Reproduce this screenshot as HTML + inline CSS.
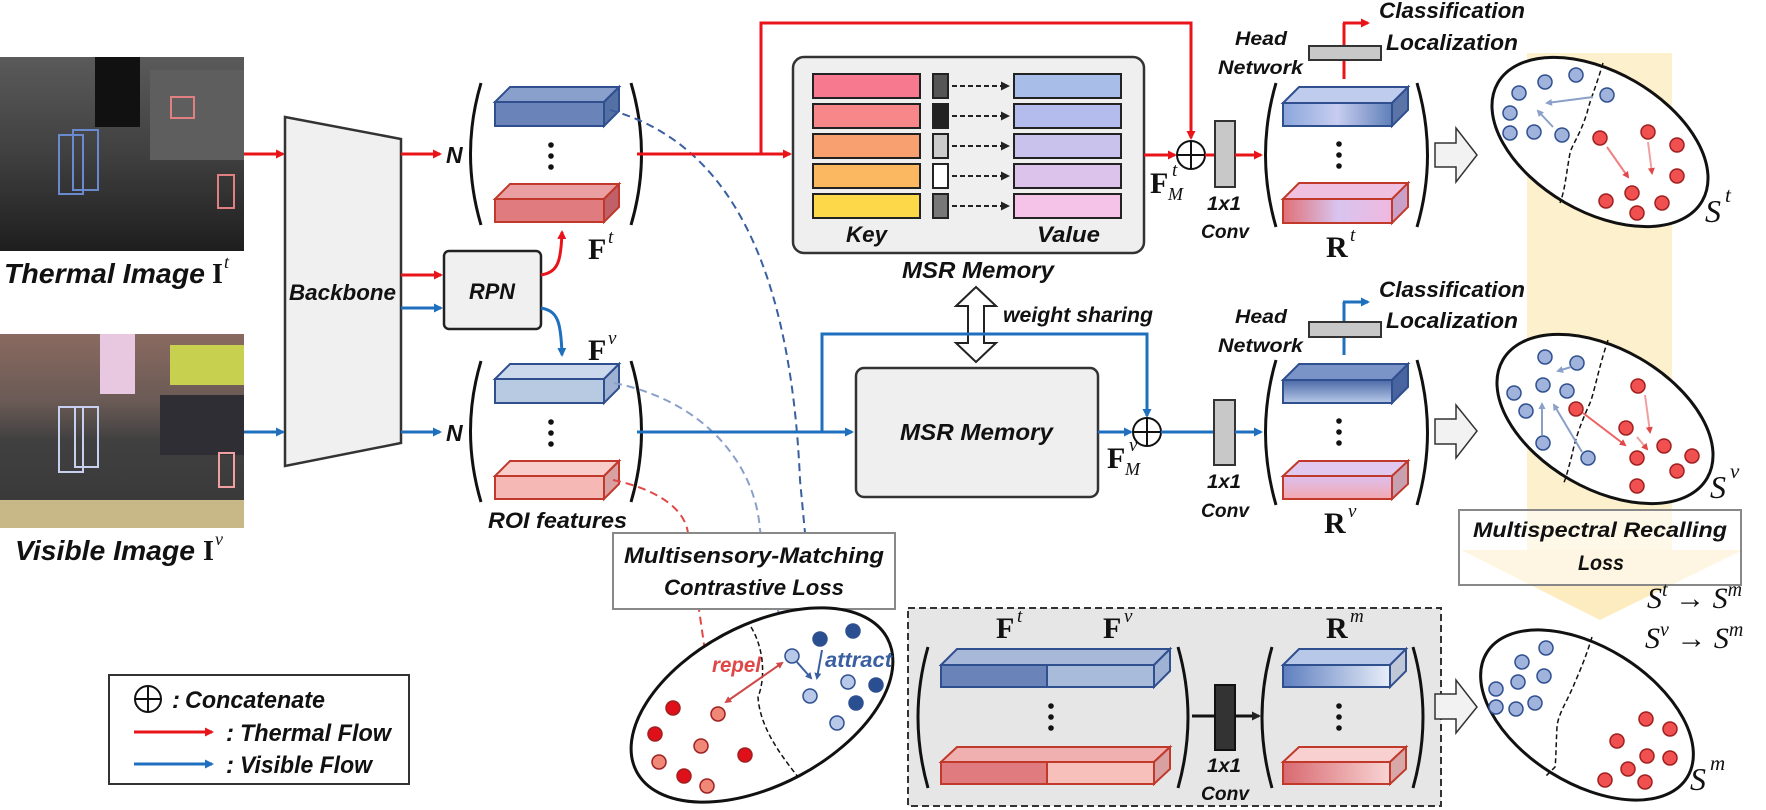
<!DOCTYPE html>
<html><head><meta charset="utf-8"><style>
body{margin:0;background:#fff}
svg{display:block}
text{font-family:"Liberation Sans",sans-serif;font-style:italic;font-weight:bold;fill:#111}
.m{font-family:"Liberation Serif",serif;font-style:normal;font-weight:bold}
.mi{font-family:"Liberation Serif",serif;font-style:italic;font-weight:normal}
</style></head><body>
<svg width="1766" height="810" viewBox="0 0 1766 810" xmlns="http://www.w3.org/2000/svg">
<defs>
<marker id="ar" markerWidth="9" markerHeight="9" refX="7" refY="4.5" orient="auto" markerUnits="userSpaceOnUse"><path d="M0,0 L9,4.5 L0,9 Z" fill="#e8141a"/></marker>
<marker id="ab" markerWidth="9" markerHeight="9" refX="7" refY="4.5" orient="auto" markerUnits="userSpaceOnUse"><path d="M0,0 L9,4.5 L0,9 Z" fill="#1f6fbf"/></marker>
<marker id="ak" markerWidth="9" markerHeight="9" refX="7" refY="4.5" orient="auto" markerUnits="userSpaceOnUse"><path d="M0,0 L9,4.5 L0,9 Z" fill="#222"/></marker>
<marker id="ad" markerWidth="7" markerHeight="7" refX="5" refY="3.5" orient="auto" markerUnits="userSpaceOnUse"><path d="M0,0 L7,3.5 L0,7 Z" fill="#3a5fa0"/></marker>
<marker id="adl" markerWidth="7" markerHeight="7" refX="5" refY="3.5" orient="auto" markerUnits="userSpaceOnUse"><path d="M0,0 L7,3.5 L0,7 Z" fill="#8aa0c8"/></marker>
<marker id="adr" markerWidth="7" markerHeight="7" refX="5" refY="3.5" orient="auto" markerUnits="userSpaceOnUse"><path d="M0,0 L7,3.5 L0,7 Z" fill="#e04848"/></marker>
<marker id="adrs" markerWidth="7" markerHeight="7" refX="5" refY="3.5" orient="auto-start-reverse" markerUnits="userSpaceOnUse"><path d="M0,0 L7,3.5 L0,7 Z" fill="#d04848"/></marker>
<linearGradient id="th" x1="0" y1="0" x2="0" y2="1"><stop offset="0" stop-color="#5a5a5a"/><stop offset="0.5" stop-color="#404040"/><stop offset="1" stop-color="#1e1e1e"/></linearGradient>
<linearGradient id="vi" x1="0" y1="0" x2="0" y2="1"><stop offset="0" stop-color="#8a6a60"/><stop offset="0.35" stop-color="#6a5a55"/><stop offset="0.55" stop-color="#404040"/><stop offset="0.85" stop-color="#3a3a3a"/><stop offset="1" stop-color="#a89870"/></linearGradient>
<linearGradient id="gb" x1="0" x2="1"><stop offset="0" stop-color="#8aa6dc"/><stop offset="0.5" stop-color="#c8cdf0"/><stop offset="1" stop-color="#5f7fb8"/></linearGradient>
<linearGradient id="gb2" x1="0" x2="0" y1="0" y2="1"><stop offset="0" stop-color="#4b6aa8"/><stop offset="1" stop-color="#b8c9e8"/></linearGradient>
<linearGradient id="gr" x1="0" x2="1"><stop offset="0" stop-color="#e07076"/><stop offset="0.5" stop-color="#d8c4ee"/><stop offset="1" stop-color="#f0b8e0"/></linearGradient>
<linearGradient id="gr2" x1="0" x2="0" y1="0" y2="1"><stop offset="0" stop-color="#dcc0ee"/><stop offset="1" stop-color="#f4a8b0"/></linearGradient>
<linearGradient id="gm" x1="0" x2="1"><stop offset="0" stop-color="#5f7fc0"/><stop offset="1" stop-color="#e8eef8"/></linearGradient>
<linearGradient id="gmr" x1="0" x2="1"><stop offset="0" stop-color="#d86a70"/><stop offset="1" stop-color="#f8d4d4"/></linearGradient>
</defs>

<!-- Images -->
<rect x="0" y="57" width="244" height="194" fill="url(#th)"/>
<rect x="95" y="57" width="45" height="70" fill="#111"/>
<rect x="150" y="70" width="94" height="90" fill="#5e5e5e"/>
<rect x="171" y="97" width="23" height="21" fill="none" stroke="#e08080" stroke-width="2"/>
<rect x="218" y="175" width="16" height="33" fill="none" stroke="#e08080" stroke-width="2"/>
<rect x="59" y="135" width="24" height="59" fill="none" stroke="#6a8ad0" stroke-width="2"/>
<rect x="73" y="130" width="25" height="60" fill="none" stroke="#6a8ad0" stroke-width="2"/>
<text x="4" y="283" font-size="28" textLength="201" lengthAdjust="spacingAndGlyphs">Thermal Image</text>
<text x="212" y="283" class="m" font-size="28">I</text><text x="224" y="268" class="mi" font-size="18">t</text>

<rect x="0" y="334" width="244" height="194" fill="url(#vi)"/>
<rect x="100" y="334" width="35" height="60" fill="#e8c8e0"/>
<rect x="170" y="345" width="74" height="40" fill="#c8d050"/>
<rect x="160" y="395" width="84" height="60" fill="#2e2e34"/>
<rect x="0" y="500" width="244" height="28" fill="#c8b888"/>
<rect x="59" y="407" width="24" height="65" fill="none" stroke="#c8d0f0" stroke-width="2"/>
<rect x="75" y="407" width="23" height="60" fill="none" stroke="#c8d0f0" stroke-width="2"/>
<rect x="219" y="453" width="15" height="34" fill="none" stroke="#f0a0a0" stroke-width="2"/>
<text x="15" y="560" font-size="28" textLength="180" lengthAdjust="spacingAndGlyphs">Visible Image</text>
<text x="203" y="560" class="m" font-size="28">I</text><text x="215" y="545" class="mi" font-size="18">v</text>

<!-- Input arrows -->
<line x1="244" y1="154" x2="283" y2="154" stroke="#e8141a" stroke-width="3" marker-end="url(#ar)"/>
<line x1="244" y1="432" x2="283" y2="432" stroke="#1f6fbf" stroke-width="3" marker-end="url(#ab)"/>
<!-- Backbone -->
<polygon points="285,117 401,139 401,443 285,466" fill="#f0f0f0" stroke="#333" stroke-width="2.5"/>
<text x="289" y="300" font-size="22" textLength="107" lengthAdjust="spacingAndGlyphs">Backbone</text>
<line x1="401" y1="154" x2="440" y2="154" stroke="#e8141a" stroke-width="3" marker-end="url(#ar)"/>
<line x1="401" y1="432" x2="440" y2="432" stroke="#1f6fbf" stroke-width="3" marker-end="url(#ab)"/>
<text x="446" y="163" font-size="23" font-weight="normal">N</text>
<text x="446" y="441" font-size="23" font-weight="normal">N</text>
<line x1="401" y1="275" x2="441" y2="275" stroke="#e8141a" stroke-width="3" marker-end="url(#ar)"/>
<line x1="401" y1="308" x2="441" y2="308" stroke="#1f6fbf" stroke-width="3" marker-end="url(#ab)"/>
<rect x="444" y="251" width="97" height="78" rx="5" fill="#f0f0f0" stroke="#222" stroke-width="2.5"/>
<text x="469" y="299" font-size="22" textLength="46" lengthAdjust="spacingAndGlyphs">RPN</text>
<path d="M541,275 C558,272 561,262 562,232" fill="none" stroke="#e8141a" stroke-width="3" marker-end="url(#ar)"/>
<path d="M541,308 C558,311 561,322 562,355" fill="none" stroke="#1f6fbf" stroke-width="3" marker-end="url(#ab)"/>

<!-- F^t matrix -->
<path d="M481,83 Q460,154 481,225" fill="none" stroke="#111" stroke-width="3"/>
<path d="M631,83 Q652,154 631,225" fill="none" stroke="#111" stroke-width="3"/>
<polygon points="495,102 510,87 619,87 604,102" fill="#8aa0cc" stroke="#2f4f8f" stroke-width="2"/>
<rect x="495" y="102" width="109" height="24" fill="#6a83b8" stroke="#2f4f8f" stroke-width="2"/>
<polygon points="604,102 619,87 619,111 604,126" fill="#5570a5" stroke="#2f4f8f" stroke-width="2"/>
<circle cx="551" cy="145" r="2.8" fill="#111"/><circle cx="551" cy="156" r="2.8" fill="#111"/><circle cx="551" cy="167" r="2.8" fill="#111"/>
<polygon points="495,199 510,184 619,184 604,199" fill="#eaa0a3" stroke="#c0392b" stroke-width="2"/>
<rect x="495" y="199" width="109" height="23" fill="#e07b7f" stroke="#c0392b" stroke-width="2"/>
<polygon points="604,199 619,184 619,207 604,222" fill="#c06068" stroke="#c0392b" stroke-width="2"/>
<text x="588" y="259" class="m" font-size="30">F</text><text x="608" y="243" class="mi" font-size="19">t</text>

<!-- F^v matrix -->
<text x="588" y="360" class="m" font-size="30">F</text><text x="608" y="344" class="mi" font-size="19">v</text>
<path d="M481,361 Q460,431 481,502" fill="none" stroke="#111" stroke-width="3"/>
<path d="M631,361 Q652,431 631,502" fill="none" stroke="#111" stroke-width="3"/>
<polygon points="495,379 510,364 619,364 604,379" fill="#ccd8ec" stroke="#2f4f8f" stroke-width="2"/>
<rect x="495" y="379" width="109" height="24" fill="#b8c9e2" stroke="#2f4f8f" stroke-width="2"/>
<polygon points="604,379 619,364 619,388 604,403" fill="#9fb2d3" stroke="#2f4f8f" stroke-width="2"/>
<circle cx="551" cy="422" r="2.8" fill="#111"/><circle cx="551" cy="433" r="2.8" fill="#111"/><circle cx="551" cy="444" r="2.8" fill="#111"/>
<polygon points="495,476 510,461 619,461 604,476" fill="#f9cdca" stroke="#c0392b" stroke-width="2"/>
<rect x="495" y="476" width="109" height="23" fill="#f5b8b5" stroke="#c0392b" stroke-width="2"/>
<polygon points="604,476 619,461 619,484 604,499" fill="#d8a0a0" stroke="#c0392b" stroke-width="2"/>
<text x="488" y="528" font-size="22" textLength="139" lengthAdjust="spacingAndGlyphs">ROI features</text>

<!-- dashed curves -->
<path d="M610,110 C720,140 790,250 800,480 L814,628" fill="none" stroke="#3a5fa0" stroke-width="2" stroke-dasharray="8,5" marker-end="url(#ad)"/>
<path d="M614,383 C700,400 755,460 760,530 L786,646" fill="none" stroke="#8aa0c8" stroke-width="2" stroke-dasharray="8,5" marker-end="url(#adl)"/>
<path d="M613,480 C660,490 685,510 688,533 L712,700" fill="none" stroke="#e04848" stroke-width="2" stroke-dasharray="8,5" marker-end="url(#adr)"/>

<!-- top red flow -->
<line x1="637" y1="154" x2="790" y2="154" stroke="#e8141a" stroke-width="3" marker-end="url(#ar)"/>
<polyline points="761,154 761,23 1191,23 1191,138" fill="none" stroke="#e8141a" stroke-width="3" marker-end="url(#ar)"/>
<!-- MSR top box -->
<rect x="793" y="57" width="351" height="196" rx="11" fill="#efefef" stroke="#333" stroke-width="2.5"/>
<g stroke="#222" stroke-width="2">
<rect x="813" y="74" width="107" height="24" fill="#f7798f"/>
<rect x="813" y="104" width="107" height="24" fill="#f8878a"/>
<rect x="813" y="134" width="107" height="24" fill="#f9a071"/>
<rect x="813" y="164" width="107" height="24" fill="#fbb861"/>
<rect x="813" y="194" width="107" height="24" fill="#fdd94a"/>
<rect x="933" y="74" width="15" height="24" fill="#555"/>
<rect x="933" y="104" width="15" height="24" fill="#222"/>
<rect x="933" y="134" width="15" height="24" fill="#ccc"/>
<rect x="933" y="164" width="15" height="24" fill="#fff"/>
<rect x="933" y="194" width="15" height="24" fill="#777"/>
<rect x="1014" y="74" width="107" height="24" fill="#a9bde9"/>
<rect x="1014" y="104" width="107" height="24" fill="#b3bcec"/>
<rect x="1014" y="134" width="107" height="24" fill="#c9c2ec"/>
<rect x="1014" y="164" width="107" height="24" fill="#dcc3ec"/>
<rect x="1014" y="194" width="107" height="24" fill="#f5c2e8"/>
</g>
<g stroke="#222" stroke-width="2" stroke-dasharray="5,3" marker-end="url(#ak)">
<line x1="952" y1="86" x2="1008" y2="86"/><line x1="952" y1="116" x2="1008" y2="116"/><line x1="952" y1="146" x2="1008" y2="146"/><line x1="952" y1="176" x2="1008" y2="176"/><line x1="952" y1="206" x2="1008" y2="206"/>
</g>
<text x="846" y="242" font-size="22" textLength="41" lengthAdjust="spacingAndGlyphs">Key</text>
<text x="1037" y="242" font-size="22" textLength="63" lengthAdjust="spacingAndGlyphs">Value</text>
<text x="902" y="278" font-size="23" textLength="152" lengthAdjust="spacingAndGlyphs">MSR Memory</text>
<!-- double arrow -->
<polygon points="976,287 996,306 984,306 984,343 996,343 976,362 956,343 968,343 968,306 956,306" fill="#fff" stroke="#222" stroke-width="2"/>
<text x="1003" y="322" font-size="21" textLength="150" lengthAdjust="spacingAndGlyphs">weight sharing</text>

<!-- oplus top -->
<line x1="1144" y1="155" x2="1175" y2="155" stroke="#e8141a" stroke-width="3" marker-end="url(#ar)"/>
<circle cx="1191" cy="155" r="14" fill="#fff" stroke="#111" stroke-width="2"/>
<line x1="1177" y1="155" x2="1205" y2="155" stroke="#111" stroke-width="2"/><line x1="1191" y1="141" x2="1191" y2="169" stroke="#111" stroke-width="2"/>
<text x="1150" y="193" class="m" font-size="30">F</text><text x="1172" y="176" class="mi" font-size="19">t</text><text x="1168" y="200" class="mi" font-size="18">M</text>
<line x1="1205" y1="155" x2="1215" y2="155" stroke="#e8141a" stroke-width="3"/>
<rect x="1215" y="121" width="20" height="66" fill="#c8c8c8" stroke="#333" stroke-width="2"/>
<line x1="1235" y1="155" x2="1261" y2="155" stroke="#e8141a" stroke-width="3" marker-end="url(#ar)"/>
<text x="1207" y="210" font-size="19" textLength="34" lengthAdjust="spacingAndGlyphs">1x1</text><text x="1201" y="238" font-size="19" textLength="48" lengthAdjust="spacingAndGlyphs">Conv</text>

<!-- R^t -->
<path d="M1276,83 Q1255,155 1276,227" fill="none" stroke="#111" stroke-width="3"/>
<path d="M1417,83 Q1438,155 1417,227" fill="none" stroke="#111" stroke-width="3"/>
<polygon points="1283,103 1299,87 1408,87 1392,103" fill="#c0ccee" stroke="#2f4f8f" stroke-width="2"/>
<rect x="1283" y="103" width="109" height="23" fill="url(#gb)" stroke="#2f4f8f" stroke-width="2"/>
<polygon points="1392,103 1408,87 1408,110 1392,126" fill="#5a74a8" stroke="#2f4f8f" stroke-width="2"/>
<circle cx="1339" cy="144" r="2.8" fill="#111"/><circle cx="1339" cy="155" r="2.8" fill="#111"/><circle cx="1339" cy="166" r="2.8" fill="#111"/>
<polygon points="1283,199 1299,183 1408,183 1392,199" fill="#f0c0e0" stroke="#c0392b" stroke-width="2"/>
<rect x="1283" y="199" width="109" height="24" fill="url(#gr)" stroke="#c0392b" stroke-width="2"/>
<polygon points="1392,199 1408,183 1408,207 1392,223" fill="#c8a0c8" stroke="#c0392b" stroke-width="2"/>
<text x="1326" y="257" class="m" font-size="30">R</text><text x="1350" y="241" class="mi" font-size="19">t</text>
<!-- head top -->
<line x1="1344" y1="79" x2="1344" y2="23" stroke="#e8141a" stroke-width="3"/>
<line x1="1343" y1="23" x2="1368" y2="23" stroke="#e8141a" stroke-width="3" marker-end="url(#ar)"/>
<rect x="1309" y="46" width="72" height="14" fill="#c8c8c8" stroke="#333" stroke-width="2"/>
<text x="1379" y="18" font-size="22" textLength="146" lengthAdjust="spacingAndGlyphs">Classification</text>
<text x="1386" y="50" font-size="22" textLength="132" lengthAdjust="spacingAndGlyphs">Localization</text>
<text x="1235" y="45" font-size="19" textLength="52" lengthAdjust="spacingAndGlyphs">Head</text>
<text x="1218" y="74" font-size="19" textLength="85" lengthAdjust="spacingAndGlyphs">Network</text>
<polygon points="1435,143 1456,143 1456,128 1477,155 1456,182 1456,167 1435,167" fill="#f2f2f2" stroke="#333" stroke-width="1.5"/>

<!-- yellow band + arrow -->
<rect x="1527" y="53" width="145" height="497" fill="#fdf0cc"/>
<polygon points="1461,550 1743,550 1600,620" fill="#fdecc0"/>

<!-- S^t ellipse -->
<ellipse cx="1600" cy="142" rx="118" ry="70" transform="rotate(30 1600 142)" fill="#fff" stroke="#111" stroke-width="3"/>
<path d="M1603,63 C1595,90 1590,100 1587,113 C1580,135 1572,145 1570,153 C1566,175 1565,190 1560,203" fill="none" stroke="#111" stroke-width="1.5" stroke-dasharray="5,3"/>
<g fill="#9fb3dc" stroke="#2f4f8f" stroke-width="1.5">
<circle cx="1519" cy="93" r="7"/><circle cx="1545" cy="82" r="7"/><circle cx="1576" cy="75" r="7"/><circle cx="1607" cy="95" r="7"/><circle cx="1510" cy="113" r="7"/><circle cx="1510" cy="133" r="7"/><circle cx="1534" cy="132" r="7"/><circle cx="1562" cy="135" r="7"/>
</g>
<g fill="#f05050" stroke="#a02020" stroke-width="1.5">
<circle cx="1600" cy="138" r="7"/><circle cx="1648" cy="132" r="7"/><circle cx="1677" cy="145" r="7"/><circle cx="1677" cy="176" r="7"/><circle cx="1606" cy="201" r="7"/><circle cx="1632" cy="193" r="7"/><circle cx="1637" cy="213" r="7"/><circle cx="1662" cy="203" r="7"/>
</g>
<line x1="1593" y1="97" x2="1547" y2="103" stroke="#8aa0c8" stroke-width="2" marker-end="url(#adl)"/>
<line x1="1553" y1="127" x2="1538" y2="111" stroke="#8aa0c8" stroke-width="2" marker-end="url(#adl)"/>
<line x1="1607" y1="147" x2="1628" y2="177" stroke="#f08080" stroke-width="2" marker-end="url(#adr)"/>
<line x1="1648" y1="142" x2="1652" y2="173" stroke="#f0a0a0" stroke-width="2" marker-end="url(#adr)"/>
<text x="1705" y="222" class="mi" font-size="32">S</text><text x="1725" y="202" class="mi" font-size="21">t</text>

<!-- bottom blue flow -->
<line x1="637" y1="432" x2="852" y2="432" stroke="#1f6fbf" stroke-width="3" marker-end="url(#ab)"/>
<polyline points="822,432 822,334 1147,334 1147,416" fill="none" stroke="#1f6fbf" stroke-width="3" marker-end="url(#ab)"/>
<rect x="856" y="368" width="242" height="129" rx="8" fill="#efefef" stroke="#333" stroke-width="2.5"/>
<text x="900" y="440" font-size="23" textLength="153" lengthAdjust="spacingAndGlyphs">MSR Memory</text>
<line x1="1098" y1="432" x2="1131" y2="432" stroke="#1f6fbf" stroke-width="3" marker-end="url(#ab)"/>
<circle cx="1147" cy="432" r="14" fill="#fff" stroke="#111" stroke-width="2"/>
<line x1="1133" y1="432" x2="1161" y2="432" stroke="#111" stroke-width="2"/><line x1="1147" y1="418" x2="1147" y2="446" stroke="#111" stroke-width="2"/>
<text x="1107" y="468" class="m" font-size="30">F</text><text x="1129" y="451" class="mi" font-size="19">v</text><text x="1125" y="475" class="mi" font-size="18">M</text>
<line x1="1161" y1="432" x2="1214" y2="432" stroke="#1f6fbf" stroke-width="3"/>
<rect x="1214" y="400" width="21" height="65" fill="#c8c8c8" stroke="#333" stroke-width="2"/>
<line x1="1235" y1="432" x2="1261" y2="432" stroke="#1f6fbf" stroke-width="3" marker-end="url(#ab)"/>
<text x="1207" y="488" font-size="19" textLength="34" lengthAdjust="spacingAndGlyphs">1x1</text><text x="1201" y="517" font-size="19" textLength="48" lengthAdjust="spacingAndGlyphs">Conv</text>

<!-- R^v -->
<path d="M1276,360 Q1255,432 1276,505" fill="none" stroke="#111" stroke-width="3"/>
<path d="M1417,360 Q1438,432 1417,505" fill="none" stroke="#111" stroke-width="3"/>
<polygon points="1283,380 1299,364 1408,364 1392,380" fill="#7a94c8" stroke="#2f4f8f" stroke-width="2"/>
<rect x="1283" y="380" width="109" height="23" fill="url(#gb2)" stroke="#2f4f8f" stroke-width="2"/>
<polygon points="1392,380 1408,364 1408,387 1392,403" fill="#4a64a0" stroke="#2f4f8f" stroke-width="2"/>
<circle cx="1339" cy="421" r="2.8" fill="#111"/><circle cx="1339" cy="432" r="2.8" fill="#111"/><circle cx="1339" cy="443" r="2.8" fill="#111"/>
<polygon points="1283,476 1299,461 1408,461 1392,476" fill="#e0c8ee" stroke="#c0392b" stroke-width="2"/>
<rect x="1283" y="476" width="109" height="23" fill="url(#gr2)" stroke="#c0392b" stroke-width="2"/>
<polygon points="1392,476 1408,461 1408,484 1392,499" fill="#c8a0b0" stroke="#c0392b" stroke-width="2"/>
<text x="1324" y="533" class="m" font-size="30">R</text><text x="1348" y="517" class="mi" font-size="19">v</text>
<!-- head bottom -->
<line x1="1344" y1="355" x2="1344" y2="302" stroke="#1f6fbf" stroke-width="3"/>
<line x1="1343" y1="302" x2="1368" y2="302" stroke="#1f6fbf" stroke-width="3" marker-end="url(#ab)"/>
<rect x="1309" y="322" width="72" height="15" fill="#c8c8c8" stroke="#333" stroke-width="2"/>
<text x="1379" y="297" font-size="22" textLength="146" lengthAdjust="spacingAndGlyphs">Classification</text>
<text x="1386" y="328" font-size="22" textLength="132" lengthAdjust="spacingAndGlyphs">Localization</text>
<text x="1235" y="323" font-size="19" textLength="52" lengthAdjust="spacingAndGlyphs">Head</text>
<text x="1218" y="352" font-size="19" textLength="85" lengthAdjust="spacingAndGlyphs">Network</text>
<polygon points="1435,419 1456,419 1456,405 1477,431 1456,458 1456,444 1435,444" fill="#f2f2f2" stroke="#333" stroke-width="1.5"/>

<!-- S^v ellipse -->
<ellipse cx="1605" cy="419" rx="118" ry="70" transform="rotate(30 1605 419)" fill="#fff" stroke="#111" stroke-width="3"/>
<path d="M1608,340 C1598,370 1595,390 1590,403 C1580,425 1575,440 1572,455 C1568,470 1566,478 1563,485" fill="none" stroke="#111" stroke-width="1.5" stroke-dasharray="5,3"/>
<g fill="#9fb3dc" stroke="#2f4f8f" stroke-width="1.5">
<circle cx="1545" cy="357" r="7"/><circle cx="1577" cy="363" r="7"/><circle cx="1514" cy="393" r="7"/><circle cx="1543" cy="385" r="7"/><circle cx="1567" cy="391" r="7"/><circle cx="1526" cy="411" r="7"/><circle cx="1543" cy="443" r="7"/><circle cx="1588" cy="458" r="7"/>
</g>
<g fill="#f05050" stroke="#a02020" stroke-width="1.5">
<circle cx="1638" cy="386" r="7"/><circle cx="1576" cy="409" r="7"/><circle cx="1626" cy="428" r="7"/><circle cx="1664" cy="446" r="7"/><circle cx="1692" cy="456" r="7"/><circle cx="1637" cy="458" r="7"/><circle cx="1677" cy="471" r="7"/><circle cx="1637" cy="486" r="7"/>
</g>
<line x1="1571" y1="367" x2="1558" y2="371" stroke="#8aa0c8" stroke-width="2" marker-end="url(#adl)"/>
<line x1="1542" y1="435" x2="1542" y2="404" stroke="#8aa0c8" stroke-width="2" marker-end="url(#adl)"/>
<line x1="1582" y1="452" x2="1554" y2="405" stroke="#8aa0c8" stroke-width="2" marker-end="url(#adl)"/>
<line x1="1583" y1="413" x2="1625" y2="445" stroke="#f06060" stroke-width="2" marker-end="url(#adr)"/>
<line x1="1645" y1="395" x2="1650" y2="432" stroke="#f0a0a0" stroke-width="2" marker-end="url(#adr)"/>
<line x1="1637" y1="437" x2="1647" y2="449" stroke="#f0a0a0" stroke-width="2" marker-end="url(#adr)"/>
<text x="1710" y="498" class="mi" font-size="32">S</text><text x="1730" y="478" class="mi" font-size="21">v</text>

<!-- Recall loss box -->
<rect x="1459" y="510" width="282" height="75" fill="#fff" fill-opacity="0.55" stroke="#888" stroke-width="2"/>
<text x="1473" y="537" font-size="21" textLength="254" lengthAdjust="spacingAndGlyphs">Multispectral Recalling</text>
<text x="1578" y="570" font-size="21" textLength="46" lengthAdjust="spacingAndGlyphs">Loss</text>
<text x="1647" y="608" class="mi" font-size="30">S<tspan font-size="20" dy="-12">t</tspan><tspan dy="12"> → S</tspan><tspan font-size="20" dy="-12">m</tspan></text>
<text x="1645" y="648" class="mi" font-size="30">S<tspan font-size="20" dy="-12">v</tspan><tspan dy="12"> → S</tspan><tspan font-size="20" dy="-12">m</tspan></text>

<!-- Contrastive box -->
<rect x="613" y="533" width="282" height="76" fill="#fff" stroke="#888" stroke-width="2"/>
<text x="624" y="563" font-size="22" textLength="260" lengthAdjust="spacingAndGlyphs">Multisensory-Matching</text>
<text x="664" y="595" font-size="22" textLength="180" lengthAdjust="spacingAndGlyphs">Contrastive Loss</text>

<!-- bottom-left ellipse -->
<ellipse cx="762" cy="705" rx="142" ry="80" transform="rotate(-28 762 705)" fill="#fff" stroke="#111" stroke-width="3"/>
<path d="M751,627 C765,650 765,680 758,697 C760,730 785,760 798,777" fill="none" stroke="#111" stroke-width="1.5" stroke-dasharray="5,3"/>
<g stroke="#a02020" stroke-width="1.5">
<circle cx="673" cy="708" r="7" fill="#e0101a"/><circle cx="718" cy="714" r="7" fill="#f08878"/><circle cx="655" cy="734" r="7" fill="#e0101a"/><circle cx="701" cy="746" r="7" fill="#f08878"/><circle cx="745" cy="755" r="7" fill="#e0101a"/><circle cx="659" cy="762" r="7" fill="#f08878"/><circle cx="684" cy="776" r="7" fill="#e0101a"/><circle cx="707" cy="786" r="7" fill="#f08878"/>
</g>
<g stroke="#2f4f8f" stroke-width="1.5">
<circle cx="792" cy="656" r="7" fill="#b8c8e8"/><circle cx="820" cy="639" r="7" fill="#2a4f90"/><circle cx="853" cy="631" r="7" fill="#2a4f90"/><circle cx="848" cy="682" r="7" fill="#b8c8e8"/><circle cx="876" cy="685" r="7" fill="#2a4f90"/><circle cx="810" cy="696" r="7" fill="#b8c8e8"/><circle cx="856" cy="703" r="7" fill="#2a4f90"/><circle cx="837" cy="723" r="7" fill="#b8c8e8"/>
</g>
<line x1="726" y1="702" x2="782" y2="663" stroke="#d04848" stroke-width="2" marker-start="url(#adrs)" marker-end="url(#adrs)"/>
<line x1="796" y1="661" x2="811" y2="678" stroke="#3a5fa0" stroke-width="2" marker-end="url(#ad)"/>
<line x1="822" y1="650" x2="817" y2="678" stroke="#3a5fa0" stroke-width="2" marker-end="url(#ad)"/>
<text x="712" y="672" font-size="21" font-weight="normal" style="fill:#e04848" textLength="49" lengthAdjust="spacingAndGlyphs">repel</text>
<text x="825" y="667" font-size="21" font-weight="normal" style="fill:#3a5fa0" textLength="67" lengthAdjust="spacingAndGlyphs">attract</text>

<!-- Legend -->
<rect x="109" y="675" width="300" height="109" fill="#fff" stroke="#333" stroke-width="2"/>
<circle cx="148" cy="699" r="13" fill="#fff" stroke="#111" stroke-width="2"/>
<line x1="135" y1="699" x2="161" y2="699" stroke="#111" stroke-width="2"/><line x1="148" y1="686" x2="148" y2="712" stroke="#111" stroke-width="2"/>
<text x="172" y="708" font-size="24">:</text>
<text x="185" y="708" font-size="24" textLength="140" lengthAdjust="spacingAndGlyphs">Concatenate</text>
<line x1="134" y1="732" x2="212" y2="732" stroke="#e8141a" stroke-width="3" marker-end="url(#ar)"/>
<text x="226" y="741" font-size="24">:</text>
<text x="240" y="741" font-size="24" textLength="151" lengthAdjust="spacingAndGlyphs">Thermal Flow</text>
<line x1="134" y1="764" x2="212" y2="764" stroke="#1f6fbf" stroke-width="3" marker-end="url(#ab)"/>
<text x="226" y="773" font-size="24">:</text>
<text x="240" y="773" font-size="24" textLength="132" lengthAdjust="spacingAndGlyphs">Visible Flow</text>

<!-- dashed gray box -->
<rect x="908" y="608" width="533" height="198" fill="#e6e6e6" stroke="#333" stroke-width="2" stroke-dasharray="7,4"/>
<text x="996" y="638" class="m" font-size="30">F</text><text x="1017" y="622" class="mi" font-size="19">t</text>
<text x="1103" y="638" class="m" font-size="30">F</text><text x="1124" y="622" class="mi" font-size="19">v</text>
<path d="M928,647 Q908,717 928,788" fill="none" stroke="#111" stroke-width="3"/>
<path d="M1178,647 Q1198,717 1178,788" fill="none" stroke="#111" stroke-width="3"/>
<polygon points="941,665 957,649 1170,649 1154,665" fill="#a8b8d8" stroke="#2f4f8f" stroke-width="2"/>
<rect x="941" y="665" width="106" height="22" fill="#6a83b8" stroke="#2f4f8f" stroke-width="2"/>
<rect x="1047" y="665" width="107" height="22" fill="#a8bbdb" stroke="#2f4f8f" stroke-width="2"/>
<polygon points="1154,665 1170,649 1170,671 1154,687" fill="#9fb2d3" stroke="#2f4f8f" stroke-width="2"/>
<circle cx="1051" cy="706" r="2.8" fill="#111"/><circle cx="1051" cy="717" r="2.8" fill="#111"/><circle cx="1051" cy="728" r="2.8" fill="#111"/>
<polygon points="941,762 957,747 1170,747 1154,762" fill="#f0b0b0" stroke="#c0392b" stroke-width="2"/>
<rect x="941" y="762" width="106" height="22" fill="#e07b7f" stroke="#c0392b" stroke-width="2"/>
<rect x="1047" y="762" width="107" height="22" fill="#f8c0bb" stroke="#c0392b" stroke-width="2"/>
<polygon points="1154,762 1170,747 1170,769 1154,784" fill="#d8a0a0" stroke="#c0392b" stroke-width="2"/>
<line x1="1192" y1="716" x2="1259" y2="716" stroke="#111" stroke-width="3" marker-end="url(#ak)"/>
<rect x="1215" y="685" width="20" height="65" fill="#333" stroke="#111" stroke-width="2"/>
<text x="1207" y="772" font-size="19" textLength="34" lengthAdjust="spacingAndGlyphs">1x1</text><text x="1201" y="800" font-size="19" textLength="48" lengthAdjust="spacingAndGlyphs">Conv</text>
<text x="1326" y="638" class="m" font-size="30">R</text><text x="1350" y="622" class="mi" font-size="19">m</text>
<path d="M1272,647 Q1252,717 1272,788" fill="none" stroke="#111" stroke-width="3"/>
<path d="M1413,647 Q1433,717 1413,788" fill="none" stroke="#111" stroke-width="3"/>
<polygon points="1283,665 1299,649 1406,649 1390,665" fill="#b8c8e8" stroke="#2f4f8f" stroke-width="2"/>
<rect x="1283" y="665" width="107" height="22" fill="url(#gm)" stroke="#2f4f8f" stroke-width="2"/>
<polygon points="1390,665 1406,649 1406,671 1390,687" fill="#c0c8d8" stroke="#2f4f8f" stroke-width="2"/>
<circle cx="1339" cy="706" r="2.8" fill="#111"/><circle cx="1339" cy="717" r="2.8" fill="#111"/><circle cx="1339" cy="728" r="2.8" fill="#111"/>
<polygon points="1283,762 1299,747 1406,747 1390,762" fill="#f8d0d0" stroke="#c0392b" stroke-width="2"/>
<rect x="1283" y="762" width="107" height="22" fill="url(#gmr)" stroke="#c0392b" stroke-width="2"/>
<polygon points="1390,762 1406,747 1406,769 1390,784" fill="#d8a8a8" stroke="#c0392b" stroke-width="2"/>
<polygon points="1435,694 1456,694 1456,680 1477,707 1456,733 1456,719 1435,719" fill="#f2f2f2" stroke="#333" stroke-width="1.5"/>

<!-- S^m ellipse -->
<ellipse cx="1587" cy="715" rx="118" ry="68" transform="rotate(32 1587 715)" fill="#fff" stroke="#111" stroke-width="3"/>
<path d="M1592,637 C1585,660 1578,675 1573,687 C1565,705 1558,715 1557,727 C1556,745 1556,760 1555,767 L1545,777" fill="none" stroke="#111" stroke-width="1.5" stroke-dasharray="5,3"/>
<g fill="#9fb3dc" stroke="#2f4f8f" stroke-width="1.5">
<circle cx="1546" cy="648" r="7"/><circle cx="1522" cy="662" r="7"/><circle cx="1544" cy="676" r="7"/><circle cx="1518" cy="682" r="7"/><circle cx="1496" cy="689" r="7"/><circle cx="1535" cy="703" r="7"/><circle cx="1496" cy="707" r="7"/><circle cx="1516" cy="709" r="7"/>
</g>
<g fill="#f05050" stroke="#a02020" stroke-width="1.5">
<circle cx="1646" cy="719" r="7"/><circle cx="1670" cy="729" r="7"/><circle cx="1617" cy="741" r="7"/><circle cx="1647" cy="756" r="7"/><circle cx="1670" cy="758" r="7"/><circle cx="1628" cy="769" r="7"/><circle cx="1605" cy="780" r="7"/><circle cx="1645" cy="782" r="7"/>
</g>
<text x="1690" y="790" class="mi" font-size="32">S</text><text x="1710" y="770" class="mi" font-size="21">m</text>
</svg>
</body></html>
